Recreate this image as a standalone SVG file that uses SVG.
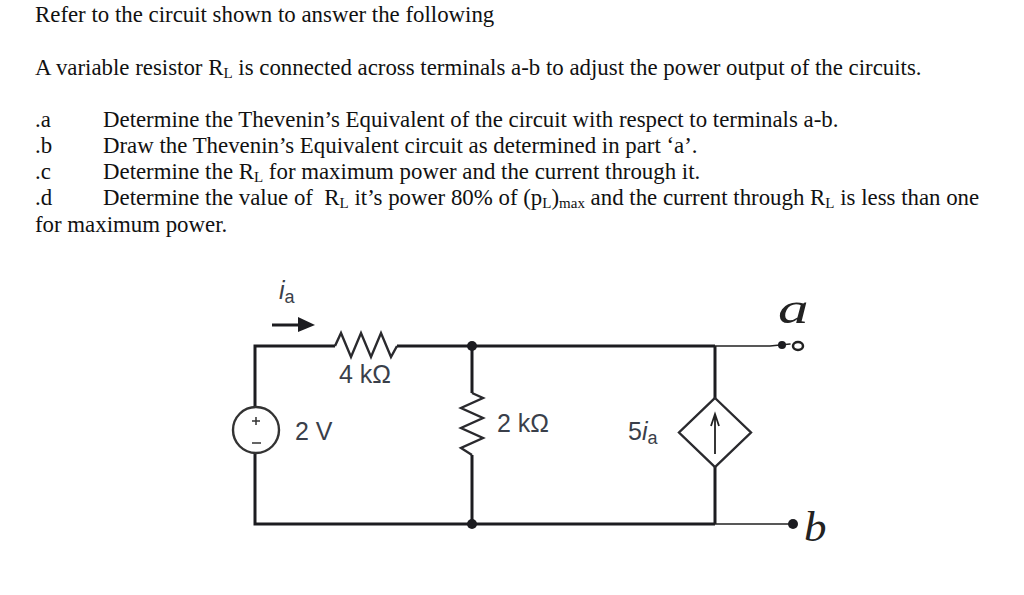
<svg xmlns="http://www.w3.org/2000/svg" width="1024" height="595" viewBox="0 0 1024 595">
<style>
.t{font-family:"Liberation Serif",serif;font-size:22.85px;fill:#111}
.s{font-size:15px}
.c{font-family:"Liberation Sans",sans-serif;font-size:25px;fill:#3a3f4a}
.i{font-style:italic}
.w{fill:none;stroke:#1c1c20;stroke-width:3}
.r{fill:none;stroke:#2a2a2e;stroke-width:2.4;stroke-linejoin:miter}
.h{fill:none;stroke:#222;stroke-width:1.6;stroke-linecap:round}
.d{fill:#1c1c20}
.hw{font-family:"Liberation Serif",serif;font-style:italic;font-size:36px;fill:#222}
</style>
<rect width="1024" height="595" fill="#fff"/>
<g id="question">
<text class="t" x="35" y="22">Refer to the circuit shown to answer the following</text>
<text class="t" x="35" y="75">A variable resistor R<tspan class="s" dy="3">L</tspan><tspan dy="-3"> is connected across terminals a-b to adjust the power output of the circuits.</tspan></text>
<text class="t" x="35" y="127">.a</text>
<text class="t" x="103" y="127">Determine the Thevenin’s Equivalent of the circuit with respect to terminals a-b.</text>
<text class="t" x="35" y="153">.b</text>
<text class="t" x="103" y="153">Draw the Thevenin’s Equivalent circuit as determined in part ‘a’.</text>
<text class="t" x="35" y="179">.c</text>
<text class="t" x="103" y="179">Determine the R<tspan class="s" dy="3">L</tspan><tspan dy="-3"> for maximum power and the current through it.</tspan></text>
<text class="t" x="35" y="205">.d</text>
<text class="t" x="103" y="205">Determine the value of&#160; R<tspan class="s" dy="3">L</tspan><tspan dy="-3"> it’s power 80% of (p</tspan><tspan class="s" dy="3">L</tspan><tspan dy="-3">)</tspan><tspan class="s" dy="3">max</tspan><tspan dy="-3"> and the current through R</tspan><tspan class="s" dy="3">L</tspan><tspan dy="-3"> is less than one</tspan></text>
<text class="t" x="35" y="232">for maximum power.</text>
</g>
<g id="connectors">
<path class="w" d="M255 408V346H335M397 346H715M472 346V393M472 455V524M255 454V524H715M715 346V398M715 467V524"/>
<path class="h" d="M715 346H770L790 344M715 524H790"/>
</g>
<g id="source-2v">
<circle cx="256" cy="430" r="23" fill="#fff" stroke="#333" stroke-width="2.4"/>
<path d="M252 421H260M256 417V425M252 443H261" fill="none" stroke="#333" stroke-width="1.5"/>
<text class="c" x="295" y="440">2 V</text>
</g>
<g id="resistor-4k">
<path class="r" d="M335 346L341 333L351 357L361 333L371 357L381 333L391 357L397 346"/>
<text class="c" x="339" y="383">4 kΩ</text>
</g>
<g id="resistor-2k">
<path class="r" d="M472 393L483 398L461 408L483 418L461 428L483 438L461 448L472 455"/>
<text class="c" x="497" y="432">2 kΩ</text>
</g>
<g id="source-dependent">
<path d="M715 398L751 432.500L715 467L679 432.500Z" fill="#fff" stroke="#2a2a2e" stroke-width="2.400"/>
<path d="M715 454V414M711 426L715 414L719 426" fill="none" stroke="#222" stroke-width="1.800"/>
<text class="c" x="628" y="440">5<tspan class="i">i</tspan><tspan font-size="18" dy="4">a</tspan></text>
</g>
<g id="current-ia">
<text class="c" x="279" y="299" font-size="25"><tspan class="i">i</tspan><tspan font-size="18" dy="4">a</tspan></text>
<path d="M272 325H300" stroke="#1c1c20" stroke-width="3" fill="none"/>
<path d="M298 317L315 325L298 332Z" class="d"/>
</g>
<g id="node-dots">
<circle class="d" cx="472" cy="346" r="5"/>
<circle class="d" cx="472" cy="524" r="5"/>
</g>
<g id="terminal-a">
<circle class="d" cx="782" cy="345" r="4"/>
<ellipse cx="798" cy="346" rx="5" ry="4" fill="none" stroke="#222" stroke-width="2.500"/>
<text class="hw" transform="translate(778 323) scale(1.7 1.25)">a</text>
</g>
<g id="terminal-b">
<circle class="d" cx="793" cy="524" r="5"/>
<text class="hw" transform="translate(804 541) scale(1.25 1.2)">b</text>
</g>
</svg>
